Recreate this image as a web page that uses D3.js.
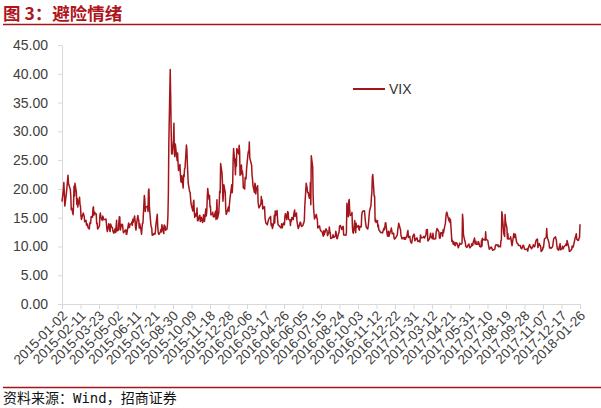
<html lang="zh">
  <head>
    <meta charset="utf-8">
    <script src="https://d3js.org/d3.v7.min.js"></script>
    <style>
      body { margin: 0; background: #fff; }
      text { font-family: "Liberation Sans", Arial, sans-serif; }
      .cjk { font-family: "Noto Sans CJK SC", sans-serif; }
    </style>
  </head>
  <body>
    <svg id="chart" width="601" height="408"></svg>
    <script>
      // VIX daily closes, one array per year
      var vix2015 = [
        ["01-02",17.79],["01-05",19.92],["01-06",21.12],["01-07",19.31],["01-08",17.01],["01-09",17.55],
        ["01-12",19.60],["01-13",20.56],["01-14",21.48],["01-15",22.39],["01-16",20.95],["01-20",19.89],
        ["01-21",18.85],["01-22",16.40],["01-23",16.66],["01-26",15.52],["01-27",17.22],["01-28",20.44],
        ["01-29",18.76],["01-30",20.97],["02-02",19.43],["02-03",17.33],["02-04",18.33],["02-05",16.85],
        ["02-06",17.29],["02-09",18.55],["02-10",17.23],["02-11",16.96],["02-12",15.34],["02-13",14.69],
        ["02-17",15.80],["02-18",15.45],["02-19",15.29],["02-20",14.30],["02-23",14.56],["02-24",13.69],
        ["02-25",13.84],["02-26",13.91],["02-27",13.34],["03-02",13.04],["03-03",13.86],["03-04",14.23],
        ["03-05",14.04],["03-06",15.20],["03-09",15.06],["03-10",16.69],["03-11",16.87],["03-12",15.42],
        ["03-13",16.00],["03-16",15.61],["03-17",15.66],["03-18",13.97],["03-19",14.07],["03-20",13.02],
        ["03-23",13.41],["03-24",13.62],["03-25",15.44],["03-26",15.80],["03-27",15.07],["03-30",14.51],
        ["03-31",15.29],["04-01",15.11],["04-02",14.67],["04-06",14.74],["04-07",14.78],["04-08",13.98],
        ["04-09",13.09],["04-10",12.58],["04-13",13.94],["04-14",13.67],["04-15",12.84],["04-16",12.60],
        ["04-17",13.89],["04-20",13.30],["04-21",13.25],["04-22",12.71],["04-23",12.48],["04-24",12.29],
        ["04-27",13.12],["04-28",12.41],["04-29",13.39],["04-30",14.55],["05-01",12.70],["05-04",12.85],
        ["05-05",14.31],["05-06",15.15],["05-07",15.13],["05-08",12.86],["05-11",13.85],["05-12",13.86],
        ["05-13",13.76],["05-14",12.74],["05-15",12.38],["05-18",12.73],["05-19",12.85],["05-20",12.88],
        ["05-21",12.11],["05-22",12.13],["05-26",14.06],["05-27",13.27],["05-28",13.31],["05-29",13.84],
        ["06-01",13.97],["06-02",14.24],["06-03",13.66],["06-04",14.71],["06-05",14.21],["06-08",15.29],
        ["06-09",14.47],["06-10",13.22],["06-11",12.85],["06-12",13.78],["06-15",15.39],["06-16",14.81],
        ["06-17",14.50],["06-18",13.19],["06-19",13.96],["06-22",12.74],["06-23",12.11],["06-24",13.26],
        ["06-25",14.01],["06-26",14.02],["06-29",18.85],["06-30",18.23],["07-01",16.09],["07-02",16.79],
        ["07-06",17.01],["07-07",16.09],["07-08",19.66],["07-09",19.97],["07-10",16.83],["07-13",13.90],
        ["07-14",13.37],["07-15",13.23],["07-16",11.95],["07-17",11.95],["07-20",12.25],["07-21",12.22],
        ["07-22",12.12],["07-23",12.64],["07-24",13.74],["07-27",15.60],["07-28",13.44],["07-29",12.50],
        ["07-30",12.13],["07-31",12.12],["08-03",12.56],["08-04",13.00],["08-05",12.51],["08-06",13.77],
        ["08-07",13.39],["08-10",12.23],["08-11",13.71],["08-12",13.61],["08-13",13.49],["08-14",12.83],
        ["08-17",13.02],["08-18",13.79],["08-19",15.25],["08-20",19.14],["08-21",28.03],["08-24",40.74],
        ["08-25",36.02],["08-26",30.32],["08-27",26.10],["08-28",26.05],["08-31",28.43],["09-01",31.40],
        ["09-02",26.09],["09-03",25.61],["09-04",27.80],["09-08",24.90],["09-09",26.23],["09-10",24.37],
        ["09-11",23.20],["09-14",24.25],["09-15",22.54],["09-16",21.35],["09-17",21.14],["09-18",22.28],
        ["09-21",20.14],["09-22",22.44],["09-23",22.13],["09-24",23.47],["09-25",23.62],["09-28",27.63],
        ["09-29",26.83],["09-30",24.50],["10-01",22.55],["10-02",20.94],["10-05",19.54],["10-06",19.40],
        ["10-07",18.40],["10-08",17.42],["10-09",17.08],["10-12",16.17],["10-13",17.67],["10-14",18.03],
        ["10-15",16.05],["10-16",15.05],["10-19",15.75],["10-20",15.28],["10-21",16.70],["10-22",14.45],
        ["10-23",14.46],["10-26",15.29],["10-27",15.43],["10-28",14.33],["10-29",14.61],["10-30",15.07],
        ["11-02",14.15],["11-03",14.54],["11-04",15.51],["11-05",15.05],["11-06",14.33],["11-09",16.52],
        ["11-10",15.29],["11-11",16.06],["11-12",18.37],["11-13",20.08],["11-16",18.16],["11-17",18.84],
        ["11-18",16.85],["11-19",16.99],["11-20",15.47],["11-23",15.62],["11-24",15.93],["11-25",15.19],
        ["11-27",15.12],["11-30",16.13],["12-01",14.67],["12-02",15.91],["12-03",18.11],["12-04",14.81],
        ["12-07",15.84],["12-08",17.60],["12-09",19.61],["12-10",19.34],["12-11",24.39],["12-14",22.73],
        ["12-15",20.95],["12-16",17.86],["12-17",18.94],["12-18",20.70],["12-21",19.34],["12-22",16.60],
        ["12-23",15.57],["12-24",15.74],["12-28",16.91],["12-29",16.08],["12-30",17.29],["12-31",18.21]
      ];
      var vix2016 = [
        ["01-04",20.70],["01-05",19.34],["01-06",20.59],["01-07",24.99],["01-08",27.01],["01-11",24.30],
        ["01-12",22.47],["01-13",25.22],["01-14",23.95],["01-15",27.02],["01-19",26.05],["01-20",27.59],
        ["01-21",26.69],["01-22",22.34],["01-25",24.15],["01-26",22.50],["01-27",23.11],["01-28",22.42],
        ["01-29",20.20],["02-01",19.98],["02-02",21.98],["02-03",21.65],["02-04",21.84],["02-05",23.38],
        ["02-08",26.00],["02-09",26.54],["02-10",26.29],["02-11",28.14],["02-12",25.40],["02-16",24.11],
        ["02-17",22.31],["02-18",21.64],["02-19",20.53],["02-22",19.38],["02-23",20.98],["02-24",20.72],
        ["02-25",19.11],["02-26",19.81],["02-29",20.55],["03-01",17.70],["03-02",17.09],["03-03",16.70],
        ["03-04",16.86],["03-07",17.35],["03-08",18.67],["03-09",17.50],["03-10",18.05],["03-11",16.50],
        ["03-14",16.92],["03-15",16.84],["03-16",14.99],["03-17",14.44],["03-18",14.02],["03-21",13.79],
        ["03-22",14.17],["03-23",14.46],["03-24",14.74],["03-28",15.24],["03-29",13.82],["03-30",13.56],
        ["03-31",13.95],["04-01",13.10],["04-04",14.12],["04-05",15.42],["04-06",14.09],["04-07",16.16],
        ["04-08",15.36],["04-11",16.26],["04-12",14.85],["04-13",13.84],["04-14",13.72],["04-15",13.62],
        ["04-18",13.35],["04-19",13.24],["04-20",13.28],["04-21",13.95],["04-22",13.22],["04-25",14.08],
        ["04-26",13.96],["04-27",13.77],["04-28",15.22],["04-29",15.70],["05-02",14.68],["05-03",15.60],
        ["05-04",16.05],["05-05",15.91],["05-06",14.72],["05-09",14.57],["05-10",13.63],["05-11",14.69],
        ["05-12",14.41],["05-13",15.04],["05-16",14.68],["05-17",15.57],["05-18",15.95],["05-19",16.33],
        ["05-20",15.20],["05-23",15.82],["05-24",14.42],["05-25",13.90],["05-26",13.43],["05-27",13.12],
        ["05-31",14.19],["06-01",14.20],["06-02",13.63],["06-03",13.47],["06-06",13.65],["06-07",14.05],
        ["06-08",14.08],["06-09",14.64],["06-10",17.03],["06-13",20.97],["06-14",20.50],["06-15",20.14],
        ["06-16",19.37],["06-17",19.41],["06-20",18.37],["06-21",18.48],["06-22",21.17],["06-23",17.25],
        ["06-24",25.76],["06-27",23.85],["06-28",18.75],["06-29",16.64],["06-30",15.63],["07-01",14.77],
        ["07-05",15.58],["07-06",14.96],["07-07",14.76],["07-08",13.20],["07-11",13.54],["07-12",13.55],
        ["07-13",13.04],["07-14",12.82],["07-15",12.67],["07-18",12.44],["07-19",11.97],["07-20",11.77],
        ["07-21",12.74],["07-22",12.02],["07-25",12.87],["07-26",13.05],["07-27",12.83],["07-28",12.72],
        ["07-29",11.87],["08-01",12.44],["08-02",13.37],["08-03",12.66],["08-04",12.42],["08-05",11.39],
        ["08-08",11.50],["08-09",11.66],["08-10",12.05],["08-11",11.68],["08-12",11.55],["08-15",11.81],
        ["08-16",12.64],["08-17",12.19],["08-18",11.43],["08-19",11.34],["08-22",12.27],["08-23",12.38],
        ["08-24",13.45],["08-25",13.63],["08-26",13.65],["08-29",12.94],["08-30",13.12],["08-31",13.42],
        ["09-01",13.48],["09-02",11.98],["09-06",12.02],["09-07",11.94],["09-08",12.51],["09-09",17.50],
        ["09-12",15.16],["09-13",17.85],["09-14",18.14],["09-15",16.30],["09-16",15.37],["09-19",15.53],
        ["09-20",15.92],["09-21",13.30],["09-22",12.45],["09-23",12.29],["09-26",14.50],["09-27",13.10],
        ["09-28",12.39],["09-29",14.02],["09-30",13.29],["10-03",13.57],["10-04",13.63],["10-05",12.99],
        ["10-06",12.84],["10-07",13.48],["10-10",13.38],["10-11",15.36],["10-12",15.91],["10-13",16.12],
        ["10-14",16.12],["10-17",16.21],["10-18",15.28],["10-19",14.41],["10-20",13.75],["10-21",13.34],
        ["10-24",13.02],["10-25",13.46],["10-26",14.24],["10-27",15.36],["10-28",16.19],["10-31",17.06],
        ["11-01",18.56],["11-02",19.32],["11-03",22.08],["11-04",22.51],["11-07",18.71],["11-08",18.74],
        ["11-09",14.38],["11-10",14.74],["11-11",14.17],["11-14",14.48],["11-15",13.37],["11-16",13.72],
        ["11-17",12.85],["11-18",12.85],["11-21",12.42],["11-22",12.41],["11-23",12.43],["11-25",12.34],
        ["11-28",13.15],["11-29",12.90],["11-30",13.33],["12-01",14.07],["12-02",14.12],["12-05",12.14],
        ["12-06",11.79],["12-07",12.22],["12-08",12.64],["12-09",11.75],["12-12",12.64],["12-13",12.72],
        ["12-14",13.19],["12-15",12.79],["12-16",12.20],["12-19",12.29],["12-20",11.45],["12-21",11.27],
        ["12-22",11.43],["12-23",11.44],["12-27",11.99],["12-28",12.95],["12-29",13.37],["12-30",14.04]
      ];
      var vix2017 = [
        ["01-03",12.85],["01-04",11.85],["01-05",11.67],["01-06",11.32],["01-09",11.56],["01-10",11.49],
        ["01-11",11.26],["01-12",11.54],["01-13",11.23],["01-17",11.87],["01-18",12.48],["01-19",12.78],
        ["01-20",11.54],["01-23",11.77],["01-24",11.07],["01-25",10.81],["01-26",10.63],["01-27",10.58],
        ["01-30",11.88],["01-31",11.99],["02-01",12.14],["02-02",11.93],["02-03",10.97],["02-06",11.37],
        ["02-07",11.45],["02-08",11.45],["02-09",10.88],["02-10",10.85],["02-13",11.07],["02-14",10.74],
        ["02-15",11.97],["02-16",11.76],["02-17",11.49],["02-21",11.57],["02-22",11.74],["02-23",11.71],
        ["02-24",11.47],["02-27",12.09],["02-28",12.92],["03-01",12.54],["03-02",12.96],["03-03",10.96],
        ["03-06",11.24],["03-07",11.45],["03-08",11.86],["03-09",12.30],["03-10",11.66],["03-13",11.35],
        ["03-14",12.30],["03-15",11.63],["03-16",11.28],["03-17",11.28],["03-20",11.34],["03-21",12.47],
        ["03-22",12.81],["03-23",13.12],["03-24",12.96],["03-27",12.50],["03-28",11.53],["03-29",11.42],
        ["03-30",11.54],["03-31",12.37],["04-03",12.38],["04-04",11.79],["04-05",12.89],["04-06",12.39],
        ["04-07",12.87],["04-10",14.05],["04-11",15.07],["04-12",15.77],["04-13",15.96],["04-17",14.66],
        ["04-18",14.42],["04-19",14.93],["04-20",14.15],["04-21",14.63],["04-24",10.84],["04-25",11.10],
        ["04-26",10.85],["04-27",10.36],["04-28",10.82],["05-01",10.11],["05-02",10.59],["05-03",10.68],
        ["05-04",10.46],["05-05",10.57],["05-08",9.77],["05-09",10.11],["05-10",10.21],["05-11",10.60],
        ["05-12",10.40],["05-15",10.42],["05-16",10.65],["05-17",15.59],["05-18",14.66],["05-19",12.04],
        ["05-22",10.93],["05-23",10.72],["05-24",10.02],["05-25",9.99],["05-26",9.81],["05-30",10.38],
        ["05-31",10.41],["06-01",9.89],["06-02",9.75],["06-05",10.07],["06-06",10.45],["06-07",10.39],
        ["06-08",10.16],["06-09",10.70],["06-12",11.46],["06-13",10.42],["06-14",10.64],["06-15",10.90],
        ["06-16",10.38],["06-19",10.37],["06-20",10.86],["06-21",10.75],["06-22",10.48],["06-23",10.02],
        ["06-26",9.90],["06-27",11.06],["06-28",10.03],["06-29",11.44],["06-30",11.18],["07-03",11.22],
        ["07-05",11.07],["07-06",12.54],["07-07",11.19],["07-10",11.11],["07-11",10.89],["07-12",10.30],
        ["07-13",9.90],["07-14",9.51],["07-17",9.82],["07-18",9.89],["07-19",9.79],["07-20",9.58],
        ["07-21",9.36],["07-24",9.43],["07-25",9.43],["07-26",9.60],["07-27",10.11],["07-28",10.29],
        ["07-31",10.26],["08-01",10.09],["08-02",10.28],["08-03",9.95],["08-04",10.03],["08-07",9.93],
        ["08-08",10.96],["08-09",11.11],["08-10",16.04],["08-11",15.51],["08-14",12.33],["08-15",12.04],
        ["08-16",11.74],["08-17",15.55],["08-18",14.26],["08-21",13.19],["08-22",11.35],["08-23",12.25],
        ["08-24",11.28],["08-25",11.28],["08-28",11.32],["08-29",11.70],["08-30",11.22],["08-31",10.59],
        ["09-01",10.13],["09-05",12.23],["09-06",11.63],["09-07",11.55],["09-08",12.12],["09-11",10.73],
        ["09-12",10.58],["09-13",10.50],["09-14",10.44],["09-15",10.17],["09-18",10.15],["09-19",10.18],
        ["09-20",9.78],["09-21",9.67],["09-22",9.59],["09-25",10.21],["09-26",10.17],["09-27",9.87],
        ["09-28",9.55],["09-29",9.51],["10-02",9.45],["10-03",9.51],["10-04",9.63],["10-05",9.19],
        ["10-06",9.65],["10-09",10.33],["10-10",10.08],["10-11",9.85],["10-12",9.91],["10-13",9.61],
        ["10-16",9.91],["10-17",10.31],["10-18",10.07],["10-19",10.05],["10-20",9.97],["10-23",11.07],
        ["10-24",11.16],["10-25",11.23],["10-26",11.30],["10-27",9.80],["10-30",10.50],["10-31",10.18],
        ["11-01",10.20],["11-02",9.93],["11-03",9.14],["11-06",9.40],["11-07",9.89],["11-08",9.78],
        ["11-09",10.50],["11-10",11.29],["11-13",11.50],["11-14",11.59],["11-15",13.13],["11-16",11.76],
        ["11-17",11.43],["11-20",10.65],["11-21",9.73],["11-22",9.88],["11-24",9.67],["11-27",9.87],
        ["11-28",10.03],["11-29",10.70],["11-30",11.28],["12-01",11.43],["12-04",11.68],["12-05",11.33],
        ["12-06",11.02],["12-07",10.16],["12-08",9.58],["12-11",9.34],["12-12",9.92],["12-13",10.18],
        ["12-14",10.49],["12-15",9.42],["12-18",9.53],["12-19",10.03],["12-20",9.72],["12-21",9.62],
        ["12-22",9.90],["12-26",10.25],["12-27",10.47],["12-28",10.18],["12-29",11.04]
      ];
      var vix2018 = [
        ["01-02",9.77],["01-03",9.15],["01-04",9.22],["01-05",9.22],["01-08",9.52],["01-09",10.08],
        ["01-10",9.82],["01-11",9.88],["01-12",10.16],["01-16",11.66],["01-17",11.91],["01-18",12.22],
        ["01-19",11.27],["01-22",11.03],["01-23",11.10],["01-24",11.47],["01-25",11.58],["01-26",13.84]
      ];

      var xTickLabels = ["2015-01-02","2015-02-11","2015-03-23","2015-05-02","2015-06-11","2015-07-21",
        "2015-08-30","2015-10-09","2015-11-18","2015-12-28","2016-02-06","2016-03-17","2016-04-26",
        "2016-06-05","2016-07-15","2016-08-24","2016-10-03","2016-11-12","2016-12-22","2017-01-31",
        "2017-03-12","2017-04-21","2017-05-31","2017-07-10","2017-08-19","2017-09-28","2017-11-07",
        "2017-12-17","2018-01-26"];
      var yTicks = [0, 5, 10, 15, 20, 25, 30, 35, 40, 45];

      var parse = d3.utcParse("%Y-%m-%d");
      var data = [];
      [[2015, vix2015], [2016, vix2016], [2017, vix2017], [2018, vix2018]].forEach(function (yr) {
        yr[1].forEach(function (d) { data.push({date: parse(yr[0] + "-" + d[0]), value: d[1]}); });
      });

      var svg = d3.select("svg#chart");
      var red = "#a3151b";

      // header and footer
      svg.append("text").attr("class", "cjk")
        .attr("x", 3).attr("y", 20)
        .attr("fill", "#b0141c").attr("font-size", 17.5).attr("font-weight", "bold")
        .text("图 3：避险情绪");
      svg.append("line").attr("x1", 3).attr("x2", 601).attr("y1", 24.5).attr("y2", 24.5)
        .attr("stroke", red).attr("stroke-width", 1.6);
      svg.append("line").attr("x1", 3).attr("x2", 601).attr("y1", 387.5).attr("y2", 387.5)
        .attr("stroke", red).attr("stroke-width", 1.6);
      var src = svg.append("text").attr("class", "cjk")
        .attr("x", 3).attr("y", 403)
        .attr("fill", "#111").attr("font-size", 14);
      src.append("tspan").text("资料来源：");
      src.append("tspan").attr("font-family", "DejaVu Sans Mono").text("Wind");
      src.append("tspan").text("，招商证券");

      var xScale = d3.scaleUtc()
        .domain([parse(xTickLabels[0]), parse(xTickLabels[xTickLabels.length - 1])])
        .range([62, 580]);
      var yScale = d3.scaleLinear().domain([0, 45]).range([304, 45]);

      var xAxis = d3.axisBottom(xScale)
        .tickValues(xTickLabels.map(parse))
        .tickFormat(d3.utcFormat("%Y-%m-%d"))
        .tickSizeInner(5).tickSizeOuter(0);

      var gx = svg.append("g")
        .attr("transform", "translate(0, 304)")
        .call(xAxis);
      gx.select(".domain").attr("stroke", "#d9d9d9");
      gx.selectAll(".tick line").attr("stroke", "#d9d9d9");
      gx.selectAll(".tick text")
        .attr("fill", "#404040")
        .attr("font-size", 13.5)
        .attr("text-anchor", "end")
        .attr("dy", null)
        .attr("transform", "translate(3, 10) rotate(-45)")
        .attr("y", 0).attr("x", 0)
        .attr("dominant-baseline", "middle");

      var yAxis = d3.axisLeft(yScale)
        .tickValues(yTicks)
        .tickFormat(d3.format(".2f"))
        .tickSizeInner(4).tickSizeOuter(0);
      var gy = svg.append("g")
        .attr("transform", "translate(62, 0)")
        .call(yAxis);
      gy.select(".domain").attr("stroke", "#d9d9d9");
      gy.selectAll(".tick line").attr("stroke", "#d9d9d9");
      gy.selectAll(".tick text")
        .attr("fill", "#404040")
        .attr("font-size", 14)
        .attr("x", -14);

      var line = d3.line()
        .x(d => xScale(d.date))
        .y(d => yScale(d.value));

      svg.append("path")
        .datum(data)
        .attr("d", line)
        .attr("fill", "none")
        .attr("stroke", red)
        .attr("stroke-width", 1.5)
        .attr("stroke-linejoin", "round");

      // legend
      var lg = svg.append("g").attr("transform", "translate(353, 89)");
      lg.append("line").attr("x1", 0).attr("x2", 32).attr("y1", 0).attr("y2", 0)
        .attr("stroke", red).attr("stroke-width", 2);
      lg.append("text").attr("x", 36).attr("y", 5)
        .attr("fill", "#333").attr("font-size", 14).text("VIX");
    </script>
  </body>
</html>
